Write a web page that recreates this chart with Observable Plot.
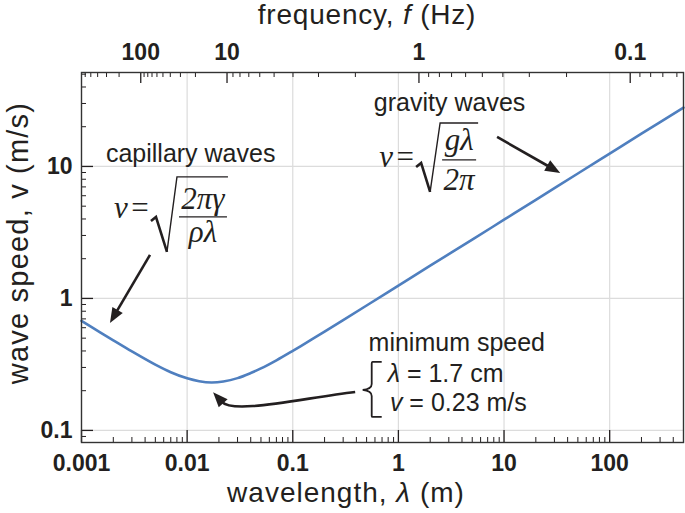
<!DOCTYPE html>
<html><head><meta charset="utf-8">
<script src="https://cdn.jsdelivr.net/npm/d3@7"></script>
<script src="https://cdn.jsdelivr.net/npm/@observablehq/plot@0.6"></script>
<style>body{margin:0;background:#fff} svg{display:block}</style>
</head><body><div id="chart"></div>
<script>
// ---- data ----
const wavelength = [0.001,0.0015,0.002,0.003,0.005,0.007,0.01,0.013,0.017,0.022,0.03,0.04,0.05,0.07,0.1,0.15,0.2,0.3,0.5,1,2,5,10,20,50,100,200,500];
const speed      = [0.677,0.554,0.482,0.397,0.315,0.276,0.248,0.236,0.231,0.235,0.249,0.272,0.295,0.340,0.401,0.487,0.561,0.686,0.884,1.25,1.77,2.79,3.95,5.59,8.84,12.5,17.7,27.9];

const xTicks = [0.001,0.01,0.1,1,10,100];
const xTickLabels = ["0.001","0.01","0.1","1","10","100"];
const yTicks = [0.1,1,10];
const yTickLabels = ["0.1","1","10"];
const freqTicks = [100,10,1,0.1];
const freqTickLabels = ["100","10","1","0.1"];
const freqMinor = [600,500,400,300,200,90,80,70,60,50,40,30,20,9,8,7,6,5,4,3,2,0.9,0.8,0.7,0.6,0.5,0.4,0.3,0.2,0.09,0.08,0.07,0.06];
const minorDigits = [2,3,4,5,6,7,8,9];

// annotation texts and anchors (data coordinates)
const regimeTexts = ["capillary waves","gravity waves"];
const regimeX = [0.0108, 3.05];
const regimeY = [12.5, 30.0];
const minText = "minimum speed";
const minX = 0.522, minY = 0.456;
const arrowFromX = [0.0045, 8.69, 0.394];
const arrowFromY = [2.12, 16.6, 0.194];
const arrowToX   = [0.00188, 34.4, 0.0178];
const arrowToY   = [0.647, 8.85, 0.193];

// ---- derived ----
const curve = wavelength.map((l, i) => ({lambda: l, v: speed[i]}));
// wavelength at which the plotted curve has frequency f = v / lambda (log-log interpolation along the curve)
function lambdaAtFreq(f) {
  const lf = Math.log10(f);
  for (let i = 0; i < curve.length - 1; i++) {
    const a = Math.log10(curve[i].v / curve[i].lambda), b = Math.log10(curve[i+1].v / curve[i+1].lambda);
    if (lf <= Math.max(a, b) && lf >= Math.min(a, b)) {
      const t = (lf - a) / (b - a);
      return Math.pow(10, Math.log10(curve[i].lambda) + t * (Math.log10(curve[i+1].lambda) - Math.log10(curve[i].lambda)));
    }
  }
  return NaN;
}
const freqMajorL = freqTicks.map(lambdaAtFreq);
const freqMinorL = freqMinor.map(lambdaAtFreq).filter(isFinite);
const freqLabels = freqMajorL.map((l, i) => ({l, t: freqTickLabels[i]}));
const xDomain = [0.001, 500], yDomain = [0.081, 51.5];
const xMinor = xTicks.flatMap(d => minorDigits.map(k => k * d)).filter(d => d <= xDomain[1]);
const yMinor = [0.01, 0.1, 1, 10].flatMap(d => minorDigits.map(k => k * d)).filter(d => d > yDomain[0] && d < yDomain[1]);
const xLabel = new Map(xTicks.map((d, i) => [d, xTickLabels[i]]));
const yLabel = new Map(yTicks.map((d, i) => [d, yTickLabels[i]]));

const W = 685, H = 513, mL = 81, mR = 2, mT = 72, mB = 71;
const fw = W - mL - mR, fh = H - mT - mB;
const INK = "#231f20";
const SANS = "'Liberation Sans', Arial, Helvetica, sans-serif";
const SERIF = "'Liberation Serif', 'Times New Roman', serif";

function arrowHead(g, tip, dir, len = 15, half = 6) {
  const [dx, dy] = dir, n = Math.hypot(dx, dy), ux = dx / n, uy = dy / n;
  const bx = tip[0] - ux * len, by = tip[1] - uy * len;
  g.append("path").attr("d", `M${tip[0]},${tip[1]}L${bx - uy * half},${by + ux * half}L${bx + uy * half},${by - ux * half}Z`).attr("fill", INK);
  return [bx + ux * 2, by + uy * 2];
}

function formula(g, ax, ay, spec) {
  const s = g.append("g").attr("transform", `translate(${ax},${ay})`).attr("font-family", SERIF).attr("font-size", 31).attr("fill", INK).attr("text-anchor", "middle");
  s.append("text").attr("x", spec.vX).attr("y", spec.vY).attr("font-style", "italic").text("v");
  s.append("text").attr("x", spec.eqX).attr("y", spec.vY).text("=");
  const r = spec.rad;
  s.append("path").attr("d", d3.line()([r[0], r[1], r[2]])).attr("fill", "none").attr("stroke", INK).attr("stroke-width", 2.6).attr("stroke-linejoin", "miter");
  s.append("path").attr("d", d3.line()([r[2], r[3], r[4]])).attr("fill", "none").attr("stroke", INK).attr("stroke-width", 1.4);
  s.append("line").attr("x1", spec.bar[0]).attr("x2", spec.bar[1]).attr("y1", 0).attr("y2", 0).attr("stroke", INK).attr("stroke-width", 1.3);
  const mid = (spec.bar[0] + spec.bar[1]) / 2;
  s.append("text").attr("x", mid).attr("y", spec.numY).attr("font-style", "italic").text(spec.num);
  s.append("text").attr("x", mid).attr("y", spec.denY).attr("font-style", "italic").text(spec.den);
}

function annotate(index, scales, values, dim) {
  const sx = scales.x, sy = scales.y;
  const L = dim.marginLeft, T = dim.marginTop, B = dim.height - dim.marginBottom;
  const g = d3.create("svg:g").attr("fill", INK);

  // axis titles
  const top = g.append("text").attr("x", L + 286).attr("y", 24).attr("text-anchor", "middle").attr("font-family", SANS).attr("font-size", 28).attr("letter-spacing", 0.8);
  top.append("tspan").text("frequency, ");
  top.append("tspan").attr("font-style", "italic").text("f");
  top.append("tspan").text(" (Hz)");
  const bot = g.append("text").attr("x", L + 265).attr("y", B + 60).attr("text-anchor", "middle").attr("font-family", SANS).attr("font-size", 28).attr("letter-spacing", 1);
  bot.append("tspan").text("wavelength, ");
  bot.append("tspan").attr("font-style", "italic").text("λ");
  bot.append("tspan").text(" (m)");
  g.append("text").attr("transform", `translate(${L - 53},${(T + B) / 2 - 14}) rotate(-90)`).attr("text-anchor", "middle").attr("font-family", SANS).attr("font-size", 29).attr("letter-spacing", 1.2).text("wave speed, v (m/s)");

  // formulas (anchored at the left end of the fraction bar)
  formula(g, sx(0.0081), sy(4.11), {vX: -56, eqX: -37, vY: 1, rad: [[-26, 4], [-21, 0], [-10, 35], [0, -40], [51, -40]], bar: [2, 50], num: "2πγ", numY: -8, den: "ρλ", denY: 25});
  formula(g, sx(2.51), sy(11.1), {vX: -54, eqX: -35, vY: 7, rad: [[-24, 7], [-19, 3], [-10, 32], [0, -37], [38, -37]], bar: [2, 36], num: "gλ", numY: -10, den: "2π", denY: 30});

  // straight arrows
  for (let i = 0; i < 2; i++) {
    const a = [sx(arrowFromX[i]), sy(arrowFromY[i])], b = [sx(arrowToX[i]), sy(arrowToY[i])];
    const base = arrowHead(g, b, [b[0] - a[0], b[1] - a[1]]);
    g.append("line").attr("x1", a[0]).attr("y1", a[1]).attr("x2", base[0]).attr("y2", base[1]).attr("stroke", INK).attr("stroke-width", 2.6);
  }
  // curved arrow to the minimum
  {
    const a = [sx(arrowFromX[2]), sy(arrowFromY[2])], b = [sx(arrowToX[2]), sy(arrowToY[2])];
    const c1 = [a[0] + 0.4 * (b[0] - a[0]), a[1] + 7], c2 = [b[0] + 20, b[1] + 22];
    const base = arrowHead(g, b, [b[0] - c2[0], b[1] - c2[1]], 15, 6);
    g.append("path").attr("d", `M${a[0]},${a[1]}C${c1[0]},${c1[1]} ${c2[0]},${c2[1]} ${base[0]},${base[1]}`).attr("fill", "none").attr("stroke", INK).attr("stroke-width", 2.6);
  }
  // brace + values
  const bx = sx(0.565), by = sy(0.201);
  g.append("path").attr("transform", `translate(${bx},${by})`).attr("d", "M10,-28L1,-28Q0,-28 0,-26L0,-6Q0,-1 -9,0Q0,1 0,6L0,26Q0,27 1,27L10,27").attr("fill", "none").attr("stroke", INK).attr("stroke-width", 1.8);
  const t1 = g.append("text").attr("x", sx(0.80)).attr("y", sy(0.270) + 9).attr("text-anchor", "start").attr("font-family", SANS).attr("font-size", 25);
  t1.append("tspan").attr("font-style", "italic").text("λ");
  t1.append("tspan").text(" = 1.7 cm");
  const t2 = g.append("text").attr("x", sx(0.84)).attr("y", sy(0.163) + 9).attr("text-anchor", "start").attr("font-family", SANS).attr("font-size", 25);
  t2.append("tspan").attr("font-style", "italic").text("v");
  t2.append("tspan").text(" = 0.23 m/s");
  return g.node();
}

const regimes = regimeTexts.map((t, i) => ({t, x: regimeX[i], y: regimeY[i]}));

const plot = Plot.plot({
  width: W, height: H,
  marginLeft: mL, marginRight: mR, marginTop: mT, marginBottom: mB,
  x: {type: "log", domain: xDomain},
  y: {type: "log", domain: yDomain},
  style: {fontFamily: SANS, background: "#fff", color: INK},
  marks: [
    Plot.ruleX(xTicks.slice(1), {stroke: "#dcdcdc", strokeWidth: 1.2}),
    Plot.ruleY(yTicks, {stroke: "#dcdcdc", strokeWidth: 1.2}),
    Plot.line(curve, {x: "lambda", y: "v", stroke: "#4f7fbf", strokeWidth: 2.6, curve: "catmull-rom"}),
    // inward ticks
    Plot.ruleX(xTicks, {insetTop: fh - 12, stroke: INK, strokeWidth: 1.3}),
    Plot.ruleX(xMinor, {insetTop: fh - 5, stroke: INK, strokeWidth: 1}),
    Plot.ruleX(freqMajorL, {insetBottom: fh - 11, stroke: INK, strokeWidth: 1.3}),
    Plot.ruleX(freqMinorL, {insetBottom: fh - 5, stroke: INK, strokeWidth: 1}),
    Plot.ruleY(yTicks, {insetRight: fw - 12, stroke: INK, strokeWidth: 1.3}),
    Plot.ruleY(yMinor, {insetRight: fw - 5, stroke: INK, strokeWidth: 1}),
    Plot.frame({stroke: "#333", strokeWidth: 1.4}),
    Plot.axisX({anchor: "bottom", ticks: xTicks, tickFormat: d => xLabel.get(d), tickSize: 0, tickPadding: 12, fontSize: 23, fontWeight: "bold", label: null}),
    Plot.text(freqLabels, {x: "l", text: "t", frameAnchor: "top", dy: -20, lineAnchor: "middle", fontSize: 23, fontWeight: "bold", fill: INK}),
    Plot.axisY({anchor: "left", ticks: yTicks, tickFormat: d => yLabel.get(d), tickSize: 0, tickPadding: 9, fontSize: 23, fontWeight: "bold", label: null}),
    Plot.text(regimes, {x: "x", y: "y", text: "t", textAnchor: "middle", fontSize: 25, fill: INK}),
    Plot.text([minText], {x: () => minX, y: () => minY, text: d => d, textAnchor: "start", fontSize: 25, fill: INK}),
    annotate
  ]
});
document.getElementById("chart").appendChild(plot);
</script>
</body></html>
